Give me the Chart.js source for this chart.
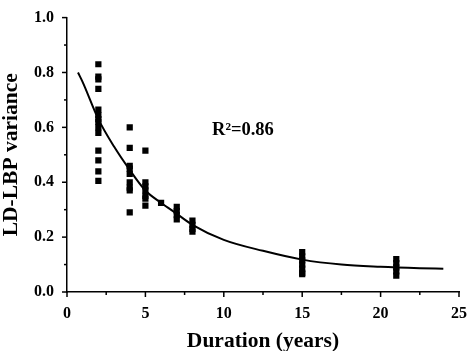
<!DOCTYPE html>
<html>
<head>
<meta charset="utf-8">
<script src="https://cdn.jsdelivr.net/npm/chart.js@4.4.0/dist/chart.umd.min.js"></script>
<style>
  html, body { margin: 0; padding: 0; background: #fff; }
  #wrap { width: 474px; height: 351px; }
</style>
</head>
<body>
<div id="wrap"><canvas id="chart"></canvas></div>
<script>
// scatter data, grouped by duration (years)
const durations = [2, 4, 5, 6, 7, 8, 15, 21];
const variances = [
  [0.83, 0.785, 0.775, 0.74, 0.665, 0.645, 0.63, 0.62, 0.60, 0.58, 0.515, 0.48, 0.44, 0.405],
  [0.60, 0.525, 0.46, 0.45, 0.43, 0.40, 0.38, 0.37, 0.29],
  [0.515, 0.40, 0.385, 0.37, 0.35, 0.34, 0.315],
  [0.325],
  [0.31, 0.295, 0.28, 0.265],
  [0.26, 0.245, 0.23, 0.22],
  [0.145, 0.13, 0.115, 0.10, 0.085, 0.07, 0.065],
  [0.12, 0.105, 0.09, 0.075, 0.06]
];

// fitted curve
const fitX = [0.7, 1, 2, 3, 4, 5, 6, 7, 8, 10, 12.5, 15, 17.5, 20, 22.5, 24];
const fitY = [0.80, 0.765, 0.63, 0.53, 0.445, 0.37, 0.325, 0.285, 0.245, 0.19, 0.15, 0.118, 0.10, 0.092, 0.087, 0.085];

const r2Label = 'R\u00b2=0.86';

const FONT = "'Liberation Serif', 'Times New Roman', serif";

const scatterPts = [];
durations.forEach((d, i) => variances[i].forEach(v => scatterPts.push({ x: d, y: v })));
const fitPts = fitX.map((x, i) => ({ x, y: fitY[i] }));

// draws major/minor ticks by hand so minor ones can be shorter
const ticksPlugin = {
  id: 'ticks',
  afterDraw(chart) {
    const { ctx, scales: { x, y } } = chart;
    ctx.save();
    ctx.strokeStyle = '#000';
    ctx.lineWidth = 1.5;
    for (let v = 0; v <= 25.001; v += 2.5) {
      const px = x.getPixelForValue(v);
      const len = Math.round(v / 2.5) % 2 === 0 ? 5 : 3;
      ctx.beginPath();
      ctx.moveTo(px, y.bottom);
      ctx.lineTo(px, y.bottom + len);
      ctx.stroke();
    }
    for (let v = 0; v <= 1.001; v += 0.1) {
      const py = y.getPixelForValue(v);
      const len = Math.round(v * 10) % 2 === 0 ? 5 : 3;
      ctx.beginPath();
      ctx.moveTo(x.left, py);
      ctx.lineTo(x.left - len, py);
      ctx.stroke();
    }
    // R squared annotation
    ctx.fillStyle = '#000';
    ctx.font = 'bold 18.5px ' + FONT;
    ctx.textBaseline = 'alphabetic';
    ctx.fillText(r2Label, x.getPixelForValue(9.25), y.getPixelForValue(0.572));
    ctx.restore();
  }
};

new Chart(document.getElementById('chart'), {
  type: 'scatter',
  data: {
    datasets: [
      {
        data: scatterPts,
        pointStyle: 'rect',
        pointRadius: 4.4,
        pointHoverRadius: 4.4,
        backgroundColor: '#000',
        borderColor: '#000',
        borderWidth: 0
      },
      {
        type: 'line',
        data: fitPts,
        borderColor: '#000',
        borderWidth: 2,
        pointRadius: 0,
        fill: false,
        cubicInterpolationMode: 'monotone'
      }
    ]
  },
  options: {
    responsive: true,
    maintainAspectRatio: false,
    animation: false,
    layout: { padding: { top: 10, right: 8, left: 0, bottom: 0 } },
    plugins: { legend: { display: false }, tooltip: { enabled: false } },
    scales: {
      x: {
        type: 'linear',
        min: 0, max: 25,
        afterFit: s => { s.height = 59; },
        border: { color: '#000', width: 1.5 },
        grid: { drawOnChartArea: false, tickLength: 5, tickColor: 'transparent' },
        ticks: {
          stepSize: 5, padding: 7, color: '#000', maxRotation: 0,
          font: { family: FONT, weight: 'bold', size: 16 }
        },
        title: {
          display: true, text: 'Duration (years)', color: '#000',
          padding: { top: 0, bottom: 0 },
          font: { family: FONT, weight: 'bold', size: 21.5, lineHeight: 0.9 }
        }
      },
      y: {
        type: 'linear',
        min: 0, max: 1,
        afterFit: s => { s.width = 67; },
        border: { color: '#000', width: 1.5 },
        grid: { drawOnChartArea: false, tickLength: 5, tickColor: 'transparent' },
        ticks: {
          stepSize: 0.2, padding: 8, color: '#000',
          callback: v => v.toFixed(1),
          font: { family: FONT, weight: 'bold', size: 16 }
        },
        title: {
          display: true, text: 'LD-LBP variance', color: '#000',
          padding: { top: 1, bottom: 0 },
          font: { family: FONT, weight: 'bold', size: 21.5, lineHeight: 1 }
        }
      }
    }
  },
  plugins: [ticksPlugin]
});
</script>
</body>
</html>
